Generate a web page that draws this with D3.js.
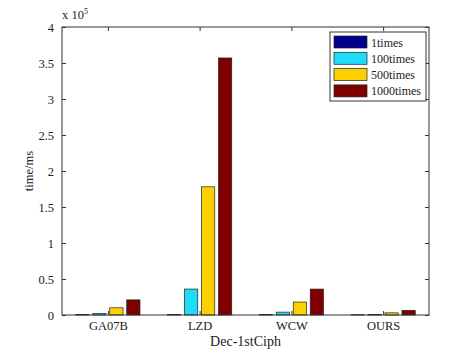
<!DOCTYPE html>
<html>
<head>
<meta charset="utf-8">
<script src="https://cdn.jsdelivr.net/npm/d3@7"></script>
<style>
body { margin: 0; background: #fff; }
svg text { font-family: "Liberation Serif", "DejaVu Serif", serif !important; fill: #222; }
</style>
</head>
<body>
<div class="chart"></div>
<script>
// data (values in units of 1e5 ms)
const categories = ["GA07B", "LZD", "WCW", "OURS"];
const seriesNames = ["1times", "100times", "500times", "1000times"];
const seriesColors = ["#00008f", "#1fdcf8", "#ffd000", "#800000"];
const values = [
  [0.005, 0.02, 0.10, 0.21],
  [0.008, 0.36, 1.78, 3.57],
  [0.005, 0.04, 0.18, 0.36],
  [0.004, 0.007, 0.03, 0.065]
];
const yTicks = [0, 0.5, 1, 1.5, 2, 2.5, 3, 3.5, 4];

const W = 474, H = 354;
const margin = {top: 27, right: 45, bottom: 39, left: 62};
const width = W - margin.left - margin.right;
const height = H - margin.top - margin.bottom;

var svg = d3.select(".chart")
    .append("svg")
    .attr("width", W)
    .attr("height", H)
    .append("g")
    .attr("transform", "translate(" + margin.left + "," + margin.top + ")");

// matlab style: xlim [0.5, 4.5]
var x = d3.scaleLinear().domain([0.5, 4.5]).range([0, width]);
var y = d3.scaleLinear().domain([0, 4]).range([height, 0]);

var groupW = 0.7; // fraction of category spacing
var bx = d3.scaleBand().domain(seriesNames).range([-groupW / 2, groupW / 2]).paddingInner(0.22);

// bars
var groups = svg.selectAll(".grp")
    .data(categories)
    .enter().append("g")
    .attr("class", "grp");

groups.selectAll("rect")
    .data(function(d, i) { return values[i].map(function(v, j) { return {cat: i + 1, v: v, s: j}; }); })
    .enter().append("rect")
    .attr("x", function(d) { return x(d.cat + bx(seriesNames[d.s])); })
    .attr("width", function(d) { return x(d.cat + bx.bandwidth()) - x(d.cat); })
    .attr("y", function(d) { return y(d.v); })
    .attr("height", function(d) { return height - y(d.v); })
    .attr("fill", function(d) { return seriesColors[d.s]; })
    .attr("stroke", "#222")
    .attr("stroke-width", 0.7);

// axes box
svg.append("rect")
    .attr("width", width).attr("height", height)
    .attr("fill", "none").attr("stroke", "#333").attr("stroke-width", 1);

var tickLen = 4;
// left axis
svg.append("g")
    .call(d3.axisLeft(y).tickValues(yTicks).tickSize(-tickLen).tickPadding(8).tickFormat(d3.format("")))
    .call(function(g) { g.select(".domain").remove(); })
    .call(function(g) { g.selectAll("line").attr("stroke", "#333"); })
    .call(function(g) { g.selectAll("text").attr("font-size", 12.5); });
// right ticks
svg.append("g")
    .attr("transform", "translate(" + width + ",0)")
    .call(d3.axisRight(y).tickValues(yTicks).tickSize(-tickLen).tickFormat(""))
    .call(function(g) { g.select(".domain").remove(); })
    .call(function(g) { g.selectAll("line").attr("stroke", "#333"); });
// bottom axis
svg.append("g")
    .attr("transform", "translate(0," + height + ")")
    .call(d3.axisBottom(x).tickValues([1, 2, 3, 4]).tickSize(-tickLen).tickPadding(6).tickFormat(function(d) { return categories[d - 1]; }))
    .call(function(g) { g.select(".domain").remove(); })
    .call(function(g) { g.selectAll("line").attr("stroke", "#333"); })
    .call(function(g) { g.selectAll("text").attr("font-size", 12.5); });
// top ticks
svg.append("g")
    .call(d3.axisTop(x).tickValues([1, 2, 3, 4]).tickSize(-tickLen).tickFormat(""))
    .call(function(g) { g.select(".domain").remove(); })
    .call(function(g) { g.selectAll("line").attr("stroke", "#333"); });

// exponent label
var ex = svg.append("text").attr("x", 0).attr("y", -8).attr("font-size", 12.5);
ex.append("tspan").text("x 10");
ex.append("tspan").attr("dy", -5).attr("font-size", 8).text("5");

// axis labels
svg.append("text")
    .attr("transform", "translate(" + (-29) + "," + (height / 2) + ") rotate(-90)")
    .attr("text-anchor", "middle")
    .attr("font-size", 12.5)
    .text("time/ms");

svg.append("text")
    .attr("x", width / 2)
    .attr("y", height + 31)
    .attr("text-anchor", "middle")
    .attr("font-size", 14)
    .text("Dec-1stCiph");

// legend
var lg = svg.append("g").attr("transform", "translate(" + (330 - margin.left) + "," + (32 - margin.top) + ")");
lg.append("rect").attr("width", 96).attr("height", 69)
    .attr("fill", "#fff").attr("stroke", "#333").attr("stroke-width", 1);
var items = lg.selectAll(".it").data(seriesNames).enter().append("g")
    .attr("transform", function(d, i) { return "translate(4," + (4 + i * 16.3) + ")"; });
items.append("rect").attr("width", 33).attr("height", 12)
    .attr("fill", function(d, i) { return seriesColors[i]; })
    .attr("stroke", "#222").attr("stroke-width", 0.7);
items.append("text").attr("x", 37).attr("y", 10.5).attr("font-size", 12)
    .text(function(d) { return d; });
</script>
</body>
</html>
